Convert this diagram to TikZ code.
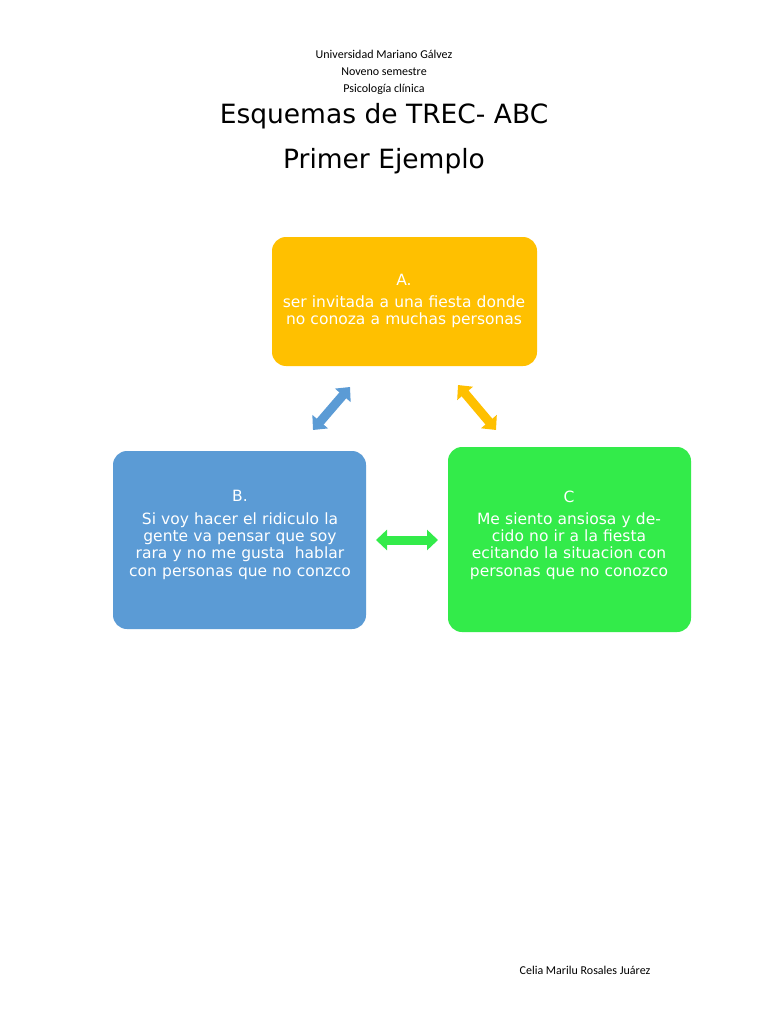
\documentclass[tikz,border=0pt]{standalone}
\usepackage{fontspec}
\setmainfont{DejaVu Sans}
\newfontfamily\carl{Carlito}
\usetikzlibrary{arrows.meta}
\definecolor{cA}{HTML}{FFC000}
\definecolor{cB}{HTML}{5B9BD5}
\definecolor{cC}{HTML}{33EB4A}
\tikzset{
 box/.style={fill=#1,rounded corners=14pt,inner sep=0pt},
 boxtxt/.style={text=white,align=center,font=\fontsize{15.5}{17.3}\selectfont,text width=#1},
 dbl/.style={draw=#1,line width=9pt,{Triangle[length=11pt,width=20pt]}-{Triangle[length=11pt,width=20pt]}},
 hdr/.style={font=\carl\fontsize{12}{14}\selectfont},
 ttl/.style={font=\fontsize{26.5}{30}\selectfont}
}
\begin{document}
\begin{tikzpicture}[x=1pt,y=-1pt]
\useasboundingbox[fill=white] (0,0) rectangle (768,1024);
\node[hdr] (h1) at (384,54) {Universidad Mariano Gálvez};
\node[hdr] (h2) at (384,72) {Noveno semestre};
\node[hdr] (h3) at (384,89) {Psicología clínica};
\node[ttl] (t1) at (384,116) {Esquemas de TREC- ABC};
\node[ttl] (t2) at (384,161) {Primer Ejemplo};
\fill[cA,rounded corners=14pt] (272,237) rectangle (537,366);
\fill[cB,rounded corners=14pt] (113,451) rectangle (366,629);
\fill[cC,rounded corners=14pt] (448,447) rectangle (691,632);
\node[boxtxt=250pt] (a) at (404,301) {A.\\[5pt]ser invitada a una fiesta donde no conoza a muchas personas};
\node[boxtxt=240pt] (b) at (240,535) {B.\\[5pt]Si voy hacer el ridiculo la gente va pensar que soy rara y no me gusta\ \ hablar con personas que no conzco};
\node[boxtxt=230pt] (c) at (569,535) {C\\[5pt]Me siento ansiosa y decido no ir a la fiesta ecitando la situacion con personas que no conozco};
\coordinate (b1) at (313,430); \coordinate (b2) at (350,387);
\coordinate (y1) at (458,385); \coordinate (y2) at (496,430);
\coordinate (g1) at (376,540); \coordinate (g2) at (438,540);
\draw[dbl=cB] (b1) -- (b2);
\draw[dbl=cA] (y1) -- (y2);
\draw[dbl=cC] (g1) -- (g2);
\node[hdr] (f) at (585,970) {Celia Marilu Rosales Juárez};
\end{tikzpicture}
\end{document}
